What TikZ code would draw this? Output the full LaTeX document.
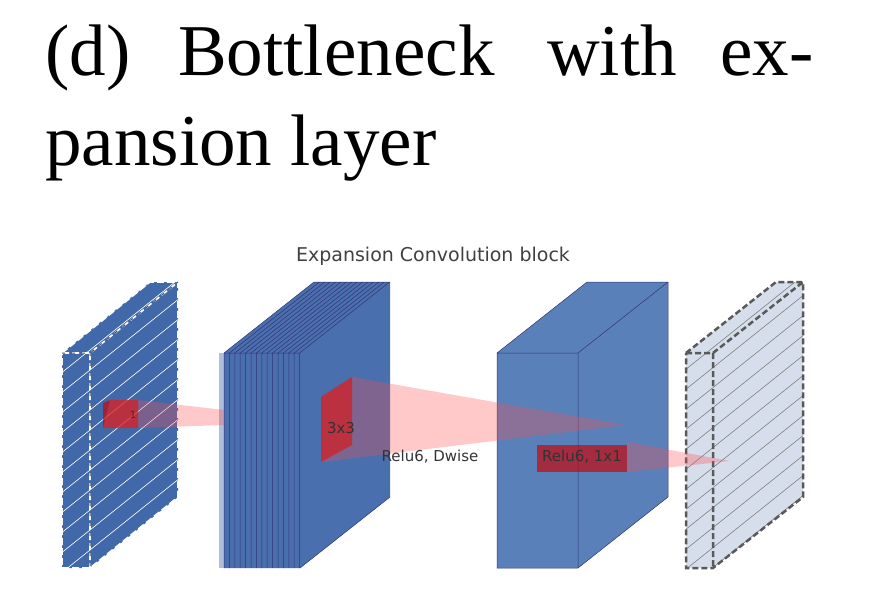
\documentclass[tikz,border=0pt]{standalone}
\usepackage{fontspec}
\setmainfont{Liberation Serif}
\newfontfamily\djsans{DejaVu Sans}
\begin{document}
\begin{tikzpicture}[x=1pt,y=-1pt,
  edge/.style={draw=black!60!blue!60!gray, line width=0.5pt},
  pinkcone/.style={fill=red!70!white, fill opacity=0.3, draw=none},
  redbox/.style={fill=red!80!black, fill opacity=0.65, draw=none},
  lbl/.style={font=\djsans\fontsize{15}{15}\selectfont, text=black!80, inner sep=0pt}]
\useasboundingbox (0,0) rectangle (870,613);
\definecolor{bA}{HTML}{4169AA}
\definecolor{bB}{HTML}{4A6FAE}
\definecolor{bC}{HTML}{5A80BA}
\definecolor{lt}{HTML}{D6DEEC}
% title
\begin{scope}[every node/.style={font=\fontsize{73}{73}\selectfont, inner sep=0pt, anchor=base west}]
\node (t1) at (45,75) {(d)};
\node (t2) at (178,75) {Bottleneck};
\node (t3) at (547,75) {with};
\node (t4) at (720,75) {ex-};
\node (t5) at (45,165) {pansion layer};
\end{scope}
\node[font=\djsans\fontsize{19}{19}\selectfont, text=black!75] (hd) at (433,256) {Expansion Convolution block};
% block 1
\fill[bA] (62,353) -- (150,282) -- (178,282) -- (178,497) -- (90,568) -- (62,568) -- cycle;
\begin{scope}
\clip (62,353) -- (150,282) -- (178,282) -- (178,497) -- (90,568) -- (62,568) -- cycle;
\foreach \i in {0,...,26} {\draw[white, line width=0.6pt] (40,{330+20*\i}) -- ++(160,-128);}
\end{scope}
\draw[white, dash pattern=on 7pt off 3pt, line width=1.6pt] (62,353) -- (150,282) -- (178,282) -- (178,497) -- (90,568) -- (62,568) -- cycle (62,353) -- (90,353) -- (178,282) (90,353) -- (90,568);
\draw[black!70, dash pattern=on 3pt off 7pt, line width=1pt] (62,353) -- (90,353) -- (178,282) (90,353) -- (90,568);
% block 2 (stack)
\fill[bB!45!white] (219,353) rectangle (226,568);
\fill[bB] (224,353) -- (314,282) -- (390,282) -- (390,497) -- (300,568) -- (224,568) -- cycle;
\foreach \k in {0,...,14} {\draw[edge] ({224+5.4*\k},353) -- ({224+5.4*\k},568) ({224+5.4*\k},353) -- ++(90,-71);}
\draw[edge] (224,353) -- (300,353) (300,568) -- (390,497) (314,282) -- (390,282);
% block 3
\fill[bC] (497,353) -- (587,282) -- (668,282) -- (668,497) -- (578,568) -- (497,568) -- cycle;
\draw[edge] (497,353) -- (587,282) -- (668,282) -- (668,497) -- (578,568) -- (497,568) -- cycle (497,353) -- (578,353) -- (668,282) (578,353) -- (578,568);
% block 4
\fill[lt] (686,353) -- (776,282) -- (803,282) -- (803,497) -- (713,568) -- (686,568) -- cycle;
\begin{scope}
\clip (686,353) -- (776,282) -- (803,282) -- (803,497) -- (713,568) -- (686,568) -- cycle;
\foreach \i in {0,...,26} {\draw[black!55, line width=0.5pt] (660,{330+20*\i}) -- ++(160,-128);}
\end{scope}
\draw[black!65, dash pattern=on 6pt off 3pt, line width=2.5pt] (686,353) -- (776,282) -- (803,282) -- (803,497) -- (713,568) -- (686,568) -- cycle (686,353) -- (713,353) -- (803,282) (713,353) -- (713,568);
% kernel 1
\fill[redbox] (103,403) -- (110,400) -- (138,400) -- (138,428) -- (103,428) -- cycle;
\fill[pinkcone] (110,400) -- (138,400) -- (224,410) -- (224,425) -- (138,428) -- (103,428) -- cycle;
\node[font=\djsans\fontsize{10}{10}\selectfont, text=black!80, inner sep=0pt] (k1) at (133,415) {1};
% kernel 2
\fill[redbox] (321,397) -- (352,377) -- (352,445) -- (321,462) -- cycle;
\fill[pinkcone] (352,377) -- (625,425) -- (321,462) -- (321,397) -- cycle;
\node[lbl] (k2) at (341,428) {3x3};
\node[lbl] (d2) at (430,457) {Relu6, Dwise};
% kernel 3
\fill[redbox] (537,445) rectangle (627,472);
\fill[pinkcone] (627,442) -- (730,461) -- (627,472) -- cycle;
\node[lbl] (k3) at (582,457) {Relu6, 1x1};
\end{tikzpicture}
\end{document}
